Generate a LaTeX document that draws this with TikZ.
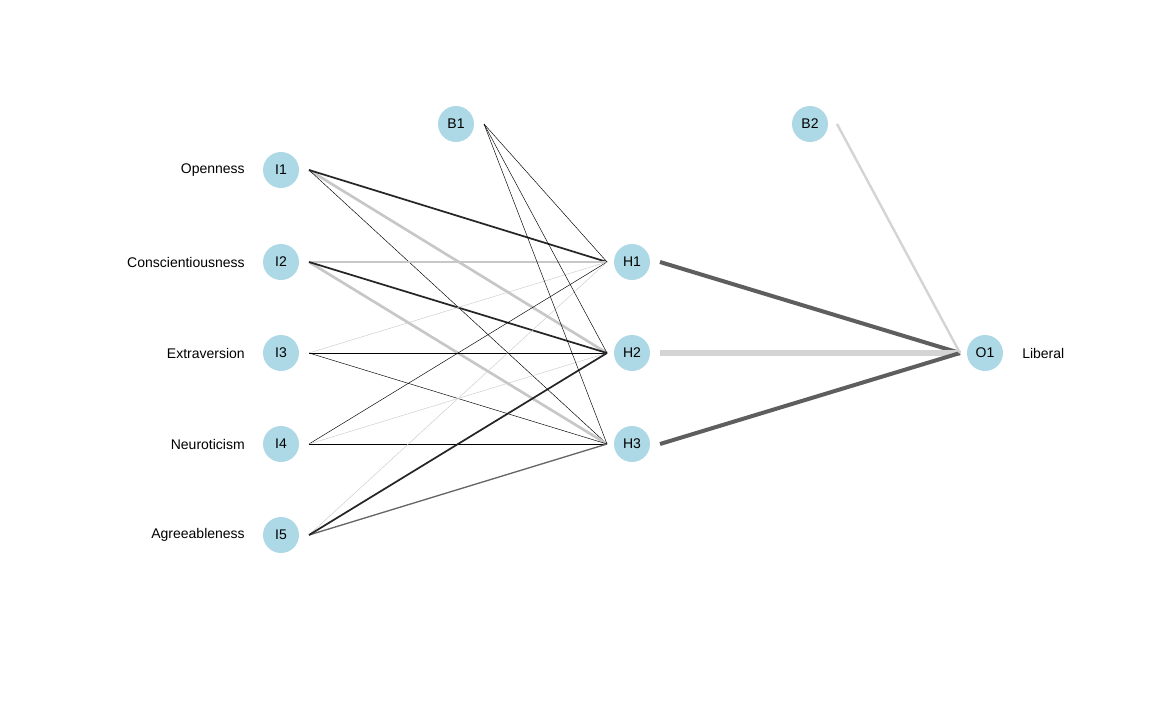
\documentclass[tikz,border=0pt]{standalone}
\usepackage{fontspec}
\setmainfont{Liberation Sans}
\begin{document}
\begin{tikzpicture}[x=0.75pt,y=-0.75pt,
  nn/.style={circle,fill=lb,minimum size=27pt,inner sep=0pt,font=\fontsize{10.5pt}{12pt}\selectfont},
  lab/.style={anchor=east,font=\fontsize{10.5pt}{12pt}\selectfont,inner sep=0pt},
  dk/.style={draw=black!85,line width=1.3pt},
  th/.style={draw=black,line width=0.35pt},
  lt/.style={draw=black!20,line width=0.35pt},
  lg/.style={draw=black!22,line width=2pt},
  md/.style={draw=black!60,line width=1pt}]
\definecolor{lb}{HTML}{ADD8E6}
\useasboundingbox (0,0) rectangle (1162,725);
\foreach \i/\y/\t in {1/170/Openness,2/262/Conscientiousness,3/353/Extraversion,4/444/Neuroticism,5/535/Agreeableness}{
  \node[nn] (I\i) at (281,\y) {I\i};
  \node[lab] (L\i) at (245,\y) {\t};
  \coordinate (i\i) at (309,\y);
}
\foreach \i/\y in {1/262,2/353,3/444}{
  \node[nn] (H\i) at (632,\y) {H\i};
  \coordinate (h\i) at (607,\y);
  \coordinate (ho\i) at (660,\y);
}
\node[nn] (B1) at (456,124) {B1};
\node[nn] (B2) at (810,124) {B2};
\node[nn] (O1) at (985,353) {O1};
\node[lab,anchor=west] (LO) at (1022,353) {Liberal};
\coordinate (b1) at (484,124);
\coordinate (b2) at (837,124);
\coordinate (o1) at (960,353);
% input to hidden
\draw[lg] (i1)--(h2); \draw[th] (i1)--(h3); \draw[dk] (i1)--(h1);
\draw[lg] (i2)--(h1); \draw[lg] (i2)--(h3); \draw[dk] (i2)--(h2);
\draw[lt] (i3)--(h1); \draw[th] (i3)--(h2); \draw[th] (i3)--(h3);
\draw[th] (i4)--(h1); \draw[lt] (i4)--(h2); \draw[th] (i4)--(h3);
\draw[lt] (i5)--(h1); \draw[md] (i5)--(h3); \draw[dk] (i5)--(h2);
\draw[th] (b1)--(h1); \draw[th] (b1)--(h2); \draw[th] (b1)--(h3);
% hidden to output
\draw[draw=black!63,line width=3pt] (ho1)--(o1);
\draw[draw=black!17,line width=5pt] (ho2)--(o1);
\draw[draw=black!63,line width=3pt] (ho3)--(o1);
\draw[draw=black!17,line width=1.8pt] (b2)--(o1);
\end{tikzpicture}
\end{document}
